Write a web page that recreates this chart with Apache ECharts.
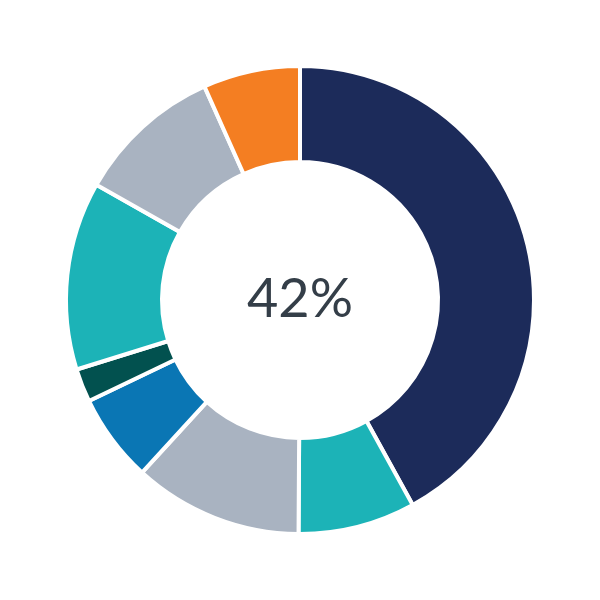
<!DOCTYPE html>
<html>
<head>
<meta charset="utf-8">
<script src="https://cdn.jsdelivr.net/npm/echarts@6/dist/echarts.min.js"></script>
<style>html,body{margin:0;padding:0;background:#fff}#c{width:600px;height:600px}</style>
</head>
<body>
<div id="c"></div>
<script>
const categories = ['A', 'B', 'C', 'D', 'E', 'F', 'G', 'H'];
const values = [42, 8.1, 11.7, 6.1, 2.3, 13, 10.1, 6.7];
const colors = ['#1c2b5a', '#1cb3b7', '#a9b3c1', '#0a76b4', '#02514f', '#1cb3b7', '#a9b3c1', '#f47e22'];
const centerLabel = '42%';

const chart = echarts.init(document.getElementById('c'), null, {renderer: 'canvas'});
chart.setOption({
  animation: false,
  backgroundColor: '#ffffff',
  title: {
    text: centerLabel,
    left: 'center',
    top: 'middle',
    textStyle: {fontFamily: 'Lato', fontSize: 54, fontWeight: 'normal', color: '#343e48'}
  },
  series: [{
    type: 'pie',
    center: [300, 300],
    radius: [138, 234],
    startAngle: 90,
    clockwise: true,
    label: {show: false},
    labelLine: {show: false},
    emphasis: {disabled: true},
    itemStyle: {borderColor: '#ffffff', borderWidth: 4},
    data: categories.map((c, i) => ({name: c, value: values[i], itemStyle: {color: colors[i]}}))
  }]
});
</script>
</body>
</html>
